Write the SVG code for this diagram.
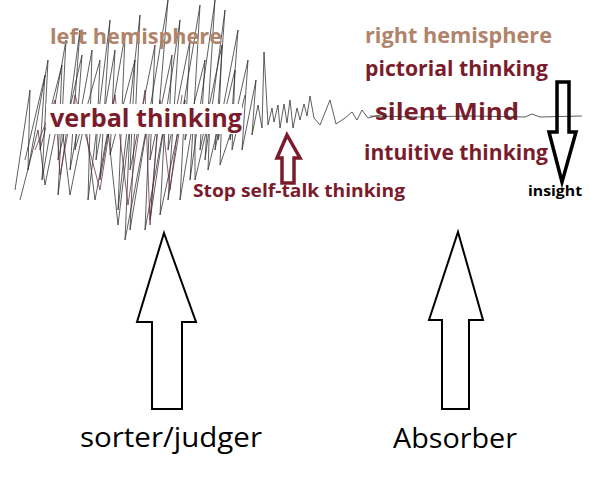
<svg xmlns="http://www.w3.org/2000/svg" width="602" height="479" viewBox="0 0 602 479">
<style>
.b{font-family:"Open Sans","Liberation Sans",sans-serif;font-weight:bold}
.n{font-family:"Open Sans","Liberation Sans",sans-serif}
.tan{fill:#b0846a}
.red{fill:#7b1c2c}
.sc{fill:none;stroke:#2a2a2a;stroke-width:0.75}
.scr{fill:none;stroke:#6a2a30;stroke-width:0.75}
.big{fill:#fff;stroke:#000;stroke-width:2}
</style>
<rect width="602" height="479" fill="#fff"/>
<g id="scribble">
<polyline class="sc" points="15,190 30,90 28,170 48,60 42,180 66,40 58,195 80,30 70,170 92,50 88,200 110,20 100,180 125,35 118,210 140,15 130,230 168,0 150,220 180,20 168,200 200,5 190,180 215,0 205,160 225,10 215,150 238,30 230,140 248,60 242,150 256,80 252,135"/>
<polyline class="sc" points="20,200 38,130 45,185 60,110 70,195 85,120 95,200 108,130 118,225 130,125 125,240 150,110 145,230 165,120 160,215 185,100 180,200 195,110 195,180 210,115 208,170 222,110 220,165 235,120"/>
<polyline class="sc" points="25,160 45,75 40,150 62,65 58,160 82,55 75,150 100,60 96,160 115,50 110,155 135,60 130,170 155,45 150,160 172,55 168,150 190,40 185,140 205,60 200,150 222,45 218,140 235,70 232,150 245,95"/>
<polyline class="scr" points="35,150 55,100 60,175 75,95 100,190 115,95 128,205 145,90 150,225 160,100 170,190 182,95"/>
<polyline class="sc" points="252,135 258,105 262,128 264,52 268,125 272,108 274,122 278,105 280,128 284,104 287,123 290,100 293,128 297,108 300,120 304,104 307,116 310,96 314,118 320,125 326,110 330,100 336,124 345,118 352,112 357,120 362,110 368,118 380,115"/>
</g>
<rect x="46" y="104" width="196" height="30" fill="#fff"/>
<g id="labels">
<text class="b tan" x="50" y="44" font-size="21" textLength="172" lengthAdjust="spacingAndGlyphs">left hemisphere</text>
<text class="b tan" x="365" y="43" font-size="21" textLength="187" lengthAdjust="spacingAndGlyphs">right hemisphere</text>
<text class="b red" x="365" y="76" font-size="21" textLength="183" lengthAdjust="spacingAndGlyphs">pictorial thinking</text>
<text class="b red" x="375" y="120" font-size="24" textLength="144" lengthAdjust="spacingAndGlyphs">silent Mind</text>
<text class="b red" x="364" y="160" font-size="21" textLength="184" lengthAdjust="spacingAndGlyphs">intuitive thinking</text>
<text class="b red" x="50" y="127" font-size="25" textLength="192" lengthAdjust="spacingAndGlyphs">verbal thinking</text>
<text class="b red" x="193" y="197" font-size="18" textLength="212" lengthAdjust="spacingAndGlyphs">Stop self-talk thinking</text>
<text class="b" x="528" y="196" font-size="15" textLength="54" lengthAdjust="spacingAndGlyphs" fill="#000">insight</text>
</g>
<g id="baseline">
<polyline class="sc" points="370,116 420,117 470,116 525,117 532,114 540,117 582,116"/>
</g>
<g id="stop-arrow">
<polygon points="287,135 300,158 294,158 294,183 282,183 282,158 277,158" fill="#fff" stroke="#7b1c2c" stroke-width="3.5"/>
</g>
<g id="insight-arrow">
<polygon points="557,82 569,82 569,132 576,132 562,182 549,132 557,132" fill="none" stroke="#000" stroke-width="3.5"/>
</g>
<g id="sorter">
<polygon class="big" points="164,233 196,322 182,322 182,409 152,409 152,322 137,322"/>
<text class="n" x="80" y="447" font-size="28" textLength="182" lengthAdjust="spacingAndGlyphs" fill="#000">sorter/judger</text>
</g>
<g id="absorber">
<polygon class="big" points="458,232 483,320 469,320 469,409 442,409 442,320 429,320"/>
<text class="n" x="393" y="448" font-size="28" textLength="124" lengthAdjust="spacingAndGlyphs" fill="#000">Absorber</text>
</g>
</svg>
